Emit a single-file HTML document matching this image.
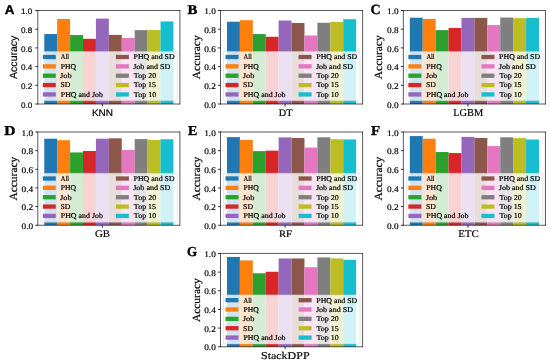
<!DOCTYPE html>
<html><head><meta charset="utf-8"><style>
html,body{margin:0;padding:0;background:#fff;}
svg{display:block;will-change:transform;} text{text-rendering:geometricPrecision;}
</style></head><body>
<svg width="550" height="364" viewBox="0 0 550 364">
<rect width="550" height="364" fill="#fff"/>
<rect x="44.26" y="34.06" width="12.92" height="69.94" fill="#1f77b4"/>
<rect x="57.18" y="18.91" width="12.92" height="85.09" fill="#ff7f0e"/>
<rect x="70.10" y="35.09" width="12.92" height="68.91" fill="#2ca02c"/>
<rect x="83.01" y="38.83" width="12.92" height="65.17" fill="#d62728"/>
<rect x="95.93" y="18.63" width="12.92" height="85.37" fill="#9467bd"/>
<rect x="108.85" y="34.90" width="12.92" height="69.10" fill="#8c564b"/>
<rect x="121.77" y="37.99" width="12.92" height="66.01" fill="#e377c2"/>
<rect x="134.69" y="30.13" width="12.92" height="73.87" fill="#7f7f7f"/>
<rect x="147.60" y="30.04" width="12.92" height="73.96" fill="#bcbd22"/>
<rect x="160.52" y="21.44" width="12.92" height="82.56" fill="#17becf"/>
<rect x="40.80" y="51.55" width="136.50" height="49.20" rx="1.3" fill="#fff" fill-opacity="0.8" stroke="#ccc" stroke-opacity="0.8" stroke-width="0.6"/>
<rect x="42.80" y="54.85" width="13.0" height="4.3" fill="#1f77b4"/>
<text transform="translate(60.84,59.40) scale(0.8770,1)" font-family='"Liberation Serif", serif' font-size="7.4" stroke="#000" stroke-width="0.2">All</text>
<rect x="42.80" y="64.21" width="13.0" height="4.3" fill="#ff7f0e"/>
<text transform="translate(60.78,68.76) scale(1.0371,1)" font-family='"Liberation Serif", serif' font-size="7.4" stroke="#000" stroke-width="0.2">PHQ</text>
<rect x="42.80" y="73.57" width="13.0" height="4.3" fill="#2ca02c"/>
<text transform="translate(60.12,78.12) scale(1.1278,1)" font-family='"Liberation Serif", serif' font-size="7.4" stroke="#000" stroke-width="0.2">Job</text>
<rect x="42.80" y="82.93" width="13.0" height="4.3" fill="#d62728"/>
<text transform="translate(60.38,87.48) scale(1.0498,1)" font-family='"Liberation Serif", serif' font-size="7.4" stroke="#000" stroke-width="0.2">SD</text>
<rect x="42.80" y="92.29" width="13.0" height="4.3" fill="#9467bd"/>
<text transform="translate(60.77,96.84) scale(1.0674,1)" font-family='"Liberation Serif", serif' font-size="7.4" stroke="#000" stroke-width="0.2">PHQ and Job</text>
<rect x="115.90" y="54.85" width="13.0" height="4.3" fill="#8c564b"/>
<text transform="translate(133.57,59.40) scale(1.0619,1)" font-family='"Liberation Serif", serif' font-size="7.4" stroke="#000" stroke-width="0.2">PHQ and SD</text>
<rect x="115.90" y="64.21" width="13.0" height="4.3" fill="#e377c2"/>
<text transform="translate(133.23,68.76) scale(1.0870,1)" font-family='"Liberation Serif", serif' font-size="7.4" stroke="#000" stroke-width="0.2">Job and SD</text>
<rect x="115.90" y="73.57" width="13.0" height="4.3" fill="#7f7f7f"/>
<text transform="translate(133.86,78.12) scale(1.0793,1)" font-family='"Liberation Serif", serif' font-size="7.4" stroke="#000" stroke-width="0.2">Top 20</text>
<rect x="115.90" y="82.93" width="13.0" height="4.3" fill="#bcbd22"/>
<text transform="translate(133.86,87.48) scale(1.0748,1)" font-family='"Liberation Serif", serif' font-size="7.4" stroke="#000" stroke-width="0.2">Top 15</text>
<rect x="115.90" y="92.29" width="13.0" height="4.3" fill="#17becf"/>
<text transform="translate(133.86,96.84) scale(1.0793,1)" font-family='"Liberation Serif", serif' font-size="7.4" stroke="#000" stroke-width="0.2">Top 10</text>
<line x1="37.47" y1="10.50" x2="180.22" y2="10.50" stroke="#000" stroke-width="0.65"/>
<line x1="37.47" y1="104.00" x2="180.22" y2="104.00" stroke="#000" stroke-width="0.65"/>
<line x1="37.80" y1="10.18" x2="37.80" y2="104.33" stroke="#000" stroke-width="0.65"/>
<line x1="179.90" y1="10.18" x2="179.90" y2="104.33" stroke="#000" stroke-width="0.65"/>
<line x1="35.30" y1="104.00" x2="37.80" y2="104.00" stroke="#000" stroke-width="0.8"/>
<text x="32.40" y="107.60" font-family='"Liberation Sans", sans-serif' font-size="8" text-anchor="end" textLength="11.3" lengthAdjust="spacingAndGlyphs" stroke="#000" stroke-width="0.18">0.0</text>
<line x1="35.30" y1="85.30" x2="37.80" y2="85.30" stroke="#000" stroke-width="0.8"/>
<text x="32.40" y="88.90" font-family='"Liberation Sans", sans-serif' font-size="8" text-anchor="end" textLength="11.3" lengthAdjust="spacingAndGlyphs" stroke="#000" stroke-width="0.18">0.2</text>
<line x1="35.30" y1="66.60" x2="37.80" y2="66.60" stroke="#000" stroke-width="0.8"/>
<text x="32.40" y="70.20" font-family='"Liberation Sans", sans-serif' font-size="8" text-anchor="end" textLength="11.3" lengthAdjust="spacingAndGlyphs" stroke="#000" stroke-width="0.18">0.4</text>
<line x1="35.30" y1="47.90" x2="37.80" y2="47.90" stroke="#000" stroke-width="0.8"/>
<text x="32.40" y="51.50" font-family='"Liberation Sans", sans-serif' font-size="8" text-anchor="end" textLength="11.3" lengthAdjust="spacingAndGlyphs" stroke="#000" stroke-width="0.18">0.6</text>
<line x1="35.30" y1="29.20" x2="37.80" y2="29.20" stroke="#000" stroke-width="0.8"/>
<text x="32.40" y="32.80" font-family='"Liberation Sans", sans-serif' font-size="8" text-anchor="end" textLength="11.3" lengthAdjust="spacingAndGlyphs" stroke="#000" stroke-width="0.18">0.8</text>
<line x1="35.30" y1="10.50" x2="37.80" y2="10.50" stroke="#000" stroke-width="0.8"/>
<text x="32.40" y="14.10" font-family='"Liberation Sans", sans-serif' font-size="8" text-anchor="end" textLength="11.3" lengthAdjust="spacingAndGlyphs" stroke="#000" stroke-width="0.18">1.0</text>
<line x1="102.39" y1="104.00" x2="102.39" y2="106.50" stroke="#000" stroke-width="0.8"/>
<text transform="translate(91.88,115.70) scale(1.0440,1)" font-family='"Liberation Sans", sans-serif' font-size="9.59" stroke="#000" stroke-width="0.18">KNN</text>
<text transform="translate(16.50,57.25) rotate(-90) translate(-21.67,0) scale(1.0134,1)" font-family='"Liberation Sans", sans-serif' font-size="10.4" stroke="#000" stroke-width="0.18">Accuracy</text>
<text transform="translate(4.72,13.65) scale(1.0431,1)" font-family='"Liberation Sans", sans-serif' font-size="12.86" font-weight="bold" stroke="#000" stroke-width="0.35">A</text>
<rect x="226.96" y="21.72" width="12.92" height="82.28" fill="#1f77b4"/>
<rect x="239.88" y="20.22" width="12.92" height="83.78" fill="#ff7f0e"/>
<rect x="252.80" y="34.06" width="12.92" height="69.94" fill="#2ca02c"/>
<rect x="265.71" y="36.77" width="12.92" height="67.23" fill="#d62728"/>
<rect x="278.63" y="20.50" width="12.92" height="83.50" fill="#9467bd"/>
<rect x="291.55" y="23.03" width="12.92" height="80.97" fill="#8c564b"/>
<rect x="304.47" y="35.46" width="12.92" height="68.54" fill="#e377c2"/>
<rect x="317.39" y="22.75" width="12.92" height="81.25" fill="#7f7f7f"/>
<rect x="330.30" y="22.00" width="12.92" height="82.00" fill="#bcbd22"/>
<rect x="343.22" y="19.20" width="12.92" height="84.80" fill="#17becf"/>
<rect x="223.50" y="51.55" width="136.50" height="49.20" rx="1.3" fill="#fff" fill-opacity="0.8" stroke="#ccc" stroke-opacity="0.8" stroke-width="0.6"/>
<rect x="225.50" y="54.85" width="13.0" height="4.3" fill="#1f77b4"/>
<text transform="translate(243.54,59.40) scale(0.8770,1)" font-family='"Liberation Serif", serif' font-size="7.4" stroke="#000" stroke-width="0.2">All</text>
<rect x="225.50" y="64.21" width="13.0" height="4.3" fill="#ff7f0e"/>
<text transform="translate(243.48,68.76) scale(1.0371,1)" font-family='"Liberation Serif", serif' font-size="7.4" stroke="#000" stroke-width="0.2">PHQ</text>
<rect x="225.50" y="73.57" width="13.0" height="4.3" fill="#2ca02c"/>
<text transform="translate(242.82,78.12) scale(1.1278,1)" font-family='"Liberation Serif", serif' font-size="7.4" stroke="#000" stroke-width="0.2">Job</text>
<rect x="225.50" y="82.93" width="13.0" height="4.3" fill="#d62728"/>
<text transform="translate(243.08,87.48) scale(1.0498,1)" font-family='"Liberation Serif", serif' font-size="7.4" stroke="#000" stroke-width="0.2">SD</text>
<rect x="225.50" y="92.29" width="13.0" height="4.3" fill="#9467bd"/>
<text transform="translate(243.47,96.84) scale(1.0674,1)" font-family='"Liberation Serif", serif' font-size="7.4" stroke="#000" stroke-width="0.2">PHQ and Job</text>
<rect x="298.60" y="54.85" width="13.0" height="4.3" fill="#8c564b"/>
<text transform="translate(316.27,59.40) scale(1.0619,1)" font-family='"Liberation Serif", serif' font-size="7.4" stroke="#000" stroke-width="0.2">PHQ and SD</text>
<rect x="298.60" y="64.21" width="13.0" height="4.3" fill="#e377c2"/>
<text transform="translate(315.93,68.76) scale(1.0870,1)" font-family='"Liberation Serif", serif' font-size="7.4" stroke="#000" stroke-width="0.2">Job and SD</text>
<rect x="298.60" y="73.57" width="13.0" height="4.3" fill="#7f7f7f"/>
<text transform="translate(316.56,78.12) scale(1.0793,1)" font-family='"Liberation Serif", serif' font-size="7.4" stroke="#000" stroke-width="0.2">Top 20</text>
<rect x="298.60" y="82.93" width="13.0" height="4.3" fill="#bcbd22"/>
<text transform="translate(316.56,87.48) scale(1.0748,1)" font-family='"Liberation Serif", serif' font-size="7.4" stroke="#000" stroke-width="0.2">Top 15</text>
<rect x="298.60" y="92.29" width="13.0" height="4.3" fill="#17becf"/>
<text transform="translate(316.56,96.84) scale(1.0793,1)" font-family='"Liberation Serif", serif' font-size="7.4" stroke="#000" stroke-width="0.2">Top 10</text>
<line x1="220.18" y1="10.50" x2="362.93" y2="10.50" stroke="#000" stroke-width="0.65"/>
<line x1="220.18" y1="104.00" x2="362.93" y2="104.00" stroke="#000" stroke-width="0.65"/>
<line x1="220.50" y1="10.18" x2="220.50" y2="104.33" stroke="#000" stroke-width="0.65"/>
<line x1="362.60" y1="10.18" x2="362.60" y2="104.33" stroke="#000" stroke-width="0.65"/>
<line x1="218.00" y1="104.00" x2="220.50" y2="104.00" stroke="#000" stroke-width="0.8"/>
<text x="215.80" y="107.60" font-family='"Liberation Serif", serif' font-size="8.7" text-anchor="end" textLength="11.6" lengthAdjust="spacingAndGlyphs" stroke="#000" stroke-width="0.18">0.0</text>
<line x1="218.00" y1="85.30" x2="220.50" y2="85.30" stroke="#000" stroke-width="0.8"/>
<text x="215.80" y="88.90" font-family='"Liberation Serif", serif' font-size="8.7" text-anchor="end" textLength="11.6" lengthAdjust="spacingAndGlyphs" stroke="#000" stroke-width="0.18">0.2</text>
<line x1="218.00" y1="66.60" x2="220.50" y2="66.60" stroke="#000" stroke-width="0.8"/>
<text x="215.80" y="70.20" font-family='"Liberation Serif", serif' font-size="8.7" text-anchor="end" textLength="11.6" lengthAdjust="spacingAndGlyphs" stroke="#000" stroke-width="0.18">0.4</text>
<line x1="218.00" y1="47.90" x2="220.50" y2="47.90" stroke="#000" stroke-width="0.8"/>
<text x="215.80" y="51.50" font-family='"Liberation Serif", serif' font-size="8.7" text-anchor="end" textLength="11.6" lengthAdjust="spacingAndGlyphs" stroke="#000" stroke-width="0.18">0.6</text>
<line x1="218.00" y1="29.20" x2="220.50" y2="29.20" stroke="#000" stroke-width="0.8"/>
<text x="215.80" y="32.80" font-family='"Liberation Serif", serif' font-size="8.7" text-anchor="end" textLength="11.6" lengthAdjust="spacingAndGlyphs" stroke="#000" stroke-width="0.18">0.8</text>
<line x1="218.00" y1="10.50" x2="220.50" y2="10.50" stroke="#000" stroke-width="0.8"/>
<text x="215.80" y="14.10" font-family='"Liberation Serif", serif' font-size="8.7" text-anchor="end" textLength="11.6" lengthAdjust="spacingAndGlyphs" stroke="#000" stroke-width="0.18">1.0</text>
<line x1="285.09" y1="104.00" x2="285.09" y2="106.50" stroke="#000" stroke-width="0.8"/>
<text transform="translate(278.70,115.70) scale(1.0247,1)" font-family='"Liberation Serif", serif' font-size="10.08" stroke="#000" stroke-width="0.18">DT</text>
<text transform="translate(199.50,57.25) rotate(-90) translate(-21.96,0) scale(1.0408,1)" font-family='"Liberation Serif", serif' font-size="11" stroke="#000" stroke-width="0.18">Accuracy</text>
<text transform="translate(187.40,13.65) scale(1.0938,1)" font-family='"Liberation Serif", serif' font-size="13.51" font-weight="bold" stroke="#000" stroke-width="0.35">B</text>
<rect x="409.81" y="17.70" width="12.92" height="86.30" fill="#1f77b4"/>
<rect x="422.73" y="18.91" width="12.92" height="85.09" fill="#ff7f0e"/>
<rect x="435.65" y="30.13" width="12.92" height="73.87" fill="#2ca02c"/>
<rect x="448.56" y="27.98" width="12.92" height="76.02" fill="#d62728"/>
<rect x="461.48" y="17.89" width="12.92" height="86.11" fill="#9467bd"/>
<rect x="474.40" y="17.89" width="12.92" height="86.11" fill="#8c564b"/>
<rect x="487.32" y="25.09" width="12.92" height="78.91" fill="#e377c2"/>
<rect x="500.24" y="17.51" width="12.92" height="86.49" fill="#7f7f7f"/>
<rect x="513.15" y="18.17" width="12.92" height="85.83" fill="#bcbd22"/>
<rect x="526.07" y="17.89" width="12.92" height="86.11" fill="#17becf"/>
<rect x="406.35" y="51.55" width="136.50" height="49.20" rx="1.3" fill="#fff" fill-opacity="0.8" stroke="#ccc" stroke-opacity="0.8" stroke-width="0.6"/>
<rect x="408.35" y="54.85" width="13.0" height="4.3" fill="#1f77b4"/>
<text transform="translate(426.39,59.40) scale(0.8770,1)" font-family='"Liberation Serif", serif' font-size="7.4" stroke="#000" stroke-width="0.2">All</text>
<rect x="408.35" y="64.21" width="13.0" height="4.3" fill="#ff7f0e"/>
<text transform="translate(426.33,68.76) scale(1.0371,1)" font-family='"Liberation Serif", serif' font-size="7.4" stroke="#000" stroke-width="0.2">PHQ</text>
<rect x="408.35" y="73.57" width="13.0" height="4.3" fill="#2ca02c"/>
<text transform="translate(425.67,78.12) scale(1.1278,1)" font-family='"Liberation Serif", serif' font-size="7.4" stroke="#000" stroke-width="0.2">Job</text>
<rect x="408.35" y="82.93" width="13.0" height="4.3" fill="#d62728"/>
<text transform="translate(425.93,87.48) scale(1.0498,1)" font-family='"Liberation Serif", serif' font-size="7.4" stroke="#000" stroke-width="0.2">SD</text>
<rect x="408.35" y="92.29" width="13.0" height="4.3" fill="#9467bd"/>
<text transform="translate(426.32,96.84) scale(1.0674,1)" font-family='"Liberation Serif", serif' font-size="7.4" stroke="#000" stroke-width="0.2">PHQ and Job</text>
<rect x="481.45" y="54.85" width="13.0" height="4.3" fill="#8c564b"/>
<text transform="translate(499.12,59.40) scale(1.0619,1)" font-family='"Liberation Serif", serif' font-size="7.4" stroke="#000" stroke-width="0.2">PHQ and SD</text>
<rect x="481.45" y="64.21" width="13.0" height="4.3" fill="#e377c2"/>
<text transform="translate(498.78,68.76) scale(1.0870,1)" font-family='"Liberation Serif", serif' font-size="7.4" stroke="#000" stroke-width="0.2">Job and SD</text>
<rect x="481.45" y="73.57" width="13.0" height="4.3" fill="#7f7f7f"/>
<text transform="translate(499.41,78.12) scale(1.0793,1)" font-family='"Liberation Serif", serif' font-size="7.4" stroke="#000" stroke-width="0.2">Top 20</text>
<rect x="481.45" y="82.93" width="13.0" height="4.3" fill="#bcbd22"/>
<text transform="translate(499.41,87.48) scale(1.0748,1)" font-family='"Liberation Serif", serif' font-size="7.4" stroke="#000" stroke-width="0.2">Top 15</text>
<rect x="481.45" y="92.29" width="13.0" height="4.3" fill="#17becf"/>
<text transform="translate(499.41,96.84) scale(1.0793,1)" font-family='"Liberation Serif", serif' font-size="7.4" stroke="#000" stroke-width="0.2">Top 10</text>
<line x1="403.03" y1="10.50" x2="545.78" y2="10.50" stroke="#000" stroke-width="0.65"/>
<line x1="403.03" y1="104.00" x2="545.78" y2="104.00" stroke="#000" stroke-width="0.65"/>
<line x1="403.35" y1="10.18" x2="403.35" y2="104.33" stroke="#000" stroke-width="0.65"/>
<line x1="545.45" y1="10.18" x2="545.45" y2="104.33" stroke="#000" stroke-width="0.65"/>
<line x1="400.85" y1="104.00" x2="403.35" y2="104.00" stroke="#000" stroke-width="0.8"/>
<text x="398.65" y="107.60" font-family='"Liberation Serif", serif' font-size="8.7" text-anchor="end" textLength="11.6" lengthAdjust="spacingAndGlyphs" stroke="#000" stroke-width="0.18">0.0</text>
<line x1="400.85" y1="85.30" x2="403.35" y2="85.30" stroke="#000" stroke-width="0.8"/>
<text x="398.65" y="88.90" font-family='"Liberation Serif", serif' font-size="8.7" text-anchor="end" textLength="11.6" lengthAdjust="spacingAndGlyphs" stroke="#000" stroke-width="0.18">0.2</text>
<line x1="400.85" y1="66.60" x2="403.35" y2="66.60" stroke="#000" stroke-width="0.8"/>
<text x="398.65" y="70.20" font-family='"Liberation Serif", serif' font-size="8.7" text-anchor="end" textLength="11.6" lengthAdjust="spacingAndGlyphs" stroke="#000" stroke-width="0.18">0.4</text>
<line x1="400.85" y1="47.90" x2="403.35" y2="47.90" stroke="#000" stroke-width="0.8"/>
<text x="398.65" y="51.50" font-family='"Liberation Serif", serif' font-size="8.7" text-anchor="end" textLength="11.6" lengthAdjust="spacingAndGlyphs" stroke="#000" stroke-width="0.18">0.6</text>
<line x1="400.85" y1="29.20" x2="403.35" y2="29.20" stroke="#000" stroke-width="0.8"/>
<text x="398.65" y="32.80" font-family='"Liberation Serif", serif' font-size="8.7" text-anchor="end" textLength="11.6" lengthAdjust="spacingAndGlyphs" stroke="#000" stroke-width="0.18">0.8</text>
<line x1="400.85" y1="10.50" x2="403.35" y2="10.50" stroke="#000" stroke-width="0.8"/>
<text x="398.65" y="14.10" font-family='"Liberation Serif", serif' font-size="8.7" text-anchor="end" textLength="11.6" lengthAdjust="spacingAndGlyphs" stroke="#000" stroke-width="0.18">1.0</text>
<line x1="467.94" y1="104.00" x2="467.94" y2="106.50" stroke="#000" stroke-width="0.8"/>
<text transform="translate(453.20,115.60) scale(0.9985,1)" font-family='"Liberation Serif", serif' font-size="10.4" stroke="#000" stroke-width="0.18">LGBM</text>
<text transform="translate(382.35,57.25) rotate(-90) translate(-21.96,0) scale(1.0408,1)" font-family='"Liberation Serif", serif' font-size="11" stroke="#000" stroke-width="0.18">Accuracy</text>
<text transform="translate(370.56,13.75) scale(1.0069,1)" font-family='"Liberation Serif", serif' font-size="13.97" font-weight="bold" stroke="#000" stroke-width="0.35">C</text>
<rect x="44.26" y="138.70" width="12.92" height="86.55" fill="#1f77b4"/>
<rect x="57.18" y="140.20" width="12.92" height="85.05" fill="#ff7f0e"/>
<rect x="70.10" y="152.42" width="12.92" height="72.83" fill="#2ca02c"/>
<rect x="83.01" y="151.02" width="12.92" height="74.23" fill="#d62728"/>
<rect x="95.93" y="138.70" width="12.92" height="86.55" fill="#9467bd"/>
<rect x="108.85" y="138.33" width="12.92" height="86.92" fill="#8c564b"/>
<rect x="121.77" y="149.99" width="12.92" height="75.26" fill="#e377c2"/>
<rect x="134.69" y="139.08" width="12.92" height="86.17" fill="#7f7f7f"/>
<rect x="147.60" y="140.01" width="12.92" height="85.24" fill="#bcbd22"/>
<rect x="160.52" y="139.26" width="12.92" height="85.99" fill="#17becf"/>
<rect x="40.80" y="173.30" width="136.50" height="48.95" rx="1.3" fill="#fff" fill-opacity="0.8" stroke="#ccc" stroke-opacity="0.8" stroke-width="0.6"/>
<rect x="42.80" y="176.35" width="13.0" height="4.3" fill="#1f77b4"/>
<text transform="translate(60.84,180.90) scale(0.8770,1)" font-family='"Liberation Serif", serif' font-size="7.4" stroke="#000" stroke-width="0.2">All</text>
<rect x="42.80" y="185.71" width="13.0" height="4.3" fill="#ff7f0e"/>
<text transform="translate(60.78,190.26) scale(1.0371,1)" font-family='"Liberation Serif", serif' font-size="7.4" stroke="#000" stroke-width="0.2">PHQ</text>
<rect x="42.80" y="195.07" width="13.0" height="4.3" fill="#2ca02c"/>
<text transform="translate(60.12,199.62) scale(1.1278,1)" font-family='"Liberation Serif", serif' font-size="7.4" stroke="#000" stroke-width="0.2">Job</text>
<rect x="42.80" y="204.43" width="13.0" height="4.3" fill="#d62728"/>
<text transform="translate(60.38,208.98) scale(1.0498,1)" font-family='"Liberation Serif", serif' font-size="7.4" stroke="#000" stroke-width="0.2">SD</text>
<rect x="42.80" y="213.79" width="13.0" height="4.3" fill="#9467bd"/>
<text transform="translate(60.77,218.34) scale(1.0674,1)" font-family='"Liberation Serif", serif' font-size="7.4" stroke="#000" stroke-width="0.2">PHQ and Job</text>
<rect x="115.90" y="176.35" width="13.0" height="4.3" fill="#8c564b"/>
<text transform="translate(133.57,180.90) scale(1.0619,1)" font-family='"Liberation Serif", serif' font-size="7.4" stroke="#000" stroke-width="0.2">PHQ and SD</text>
<rect x="115.90" y="185.71" width="13.0" height="4.3" fill="#e377c2"/>
<text transform="translate(133.23,190.26) scale(1.0870,1)" font-family='"Liberation Serif", serif' font-size="7.4" stroke="#000" stroke-width="0.2">Job and SD</text>
<rect x="115.90" y="195.07" width="13.0" height="4.3" fill="#7f7f7f"/>
<text transform="translate(133.86,199.62) scale(1.0793,1)" font-family='"Liberation Serif", serif' font-size="7.4" stroke="#000" stroke-width="0.2">Top 20</text>
<rect x="115.90" y="204.43" width="13.0" height="4.3" fill="#bcbd22"/>
<text transform="translate(133.86,208.98) scale(1.0748,1)" font-family='"Liberation Serif", serif' font-size="7.4" stroke="#000" stroke-width="0.2">Top 15</text>
<rect x="115.90" y="213.79" width="13.0" height="4.3" fill="#17becf"/>
<text transform="translate(133.86,218.34) scale(1.0793,1)" font-family='"Liberation Serif", serif' font-size="7.4" stroke="#000" stroke-width="0.2">Top 10</text>
<line x1="37.47" y1="132.00" x2="180.22" y2="132.00" stroke="#000" stroke-width="0.65"/>
<line x1="37.47" y1="225.25" x2="180.22" y2="225.25" stroke="#000" stroke-width="0.65"/>
<line x1="37.80" y1="131.68" x2="37.80" y2="225.57" stroke="#000" stroke-width="0.65"/>
<line x1="179.90" y1="131.68" x2="179.90" y2="225.57" stroke="#000" stroke-width="0.65"/>
<line x1="35.30" y1="225.25" x2="37.80" y2="225.25" stroke="#000" stroke-width="0.8"/>
<text x="33.10" y="228.85" font-family='"Liberation Serif", serif' font-size="8.7" text-anchor="end" textLength="11.6" lengthAdjust="spacingAndGlyphs" stroke="#000" stroke-width="0.18">0.0</text>
<line x1="35.30" y1="206.60" x2="37.80" y2="206.60" stroke="#000" stroke-width="0.8"/>
<text x="33.10" y="210.20" font-family='"Liberation Serif", serif' font-size="8.7" text-anchor="end" textLength="11.6" lengthAdjust="spacingAndGlyphs" stroke="#000" stroke-width="0.18">0.2</text>
<line x1="35.30" y1="187.95" x2="37.80" y2="187.95" stroke="#000" stroke-width="0.8"/>
<text x="33.10" y="191.55" font-family='"Liberation Serif", serif' font-size="8.7" text-anchor="end" textLength="11.6" lengthAdjust="spacingAndGlyphs" stroke="#000" stroke-width="0.18">0.4</text>
<line x1="35.30" y1="169.30" x2="37.80" y2="169.30" stroke="#000" stroke-width="0.8"/>
<text x="33.10" y="172.90" font-family='"Liberation Serif", serif' font-size="8.7" text-anchor="end" textLength="11.6" lengthAdjust="spacingAndGlyphs" stroke="#000" stroke-width="0.18">0.6</text>
<line x1="35.30" y1="150.65" x2="37.80" y2="150.65" stroke="#000" stroke-width="0.8"/>
<text x="33.10" y="154.25" font-family='"Liberation Serif", serif' font-size="8.7" text-anchor="end" textLength="11.6" lengthAdjust="spacingAndGlyphs" stroke="#000" stroke-width="0.18">0.8</text>
<line x1="35.30" y1="132.00" x2="37.80" y2="132.00" stroke="#000" stroke-width="0.8"/>
<text x="33.10" y="135.60" font-family='"Liberation Serif", serif' font-size="8.7" text-anchor="end" textLength="11.6" lengthAdjust="spacingAndGlyphs" stroke="#000" stroke-width="0.18">1.0</text>
<line x1="102.39" y1="225.25" x2="102.39" y2="227.75" stroke="#000" stroke-width="0.8"/>
<text transform="translate(95.06,237.00) scale(1.0689,1)" font-family='"Liberation Serif", serif' font-size="10.08" stroke="#000" stroke-width="0.18">GB</text>
<text transform="translate(16.80,178.62) rotate(-90) translate(-21.96,0) scale(1.0408,1)" font-family='"Liberation Serif", serif' font-size="11" stroke="#000" stroke-width="0.18">Accuracy</text>
<text transform="translate(4.18,134.95) scale(1.1387,1)" font-family='"Liberation Serif", serif' font-size="13.66" font-weight="bold" stroke="#000" stroke-width="0.35">D</text>
<rect x="226.96" y="137.12" width="12.92" height="88.13" fill="#1f77b4"/>
<rect x="239.88" y="139.92" width="12.92" height="85.33" fill="#ff7f0e"/>
<rect x="252.80" y="151.11" width="12.92" height="74.14" fill="#2ca02c"/>
<rect x="265.71" y="150.65" width="12.92" height="74.60" fill="#d62728"/>
<rect x="278.63" y="137.40" width="12.92" height="87.85" fill="#9467bd"/>
<rect x="291.55" y="137.96" width="12.92" height="87.29" fill="#8c564b"/>
<rect x="304.47" y="147.57" width="12.92" height="77.68" fill="#e377c2"/>
<rect x="317.39" y="137.30" width="12.92" height="87.95" fill="#7f7f7f"/>
<rect x="330.30" y="139.26" width="12.92" height="85.99" fill="#bcbd22"/>
<rect x="343.22" y="139.45" width="12.92" height="85.80" fill="#17becf"/>
<rect x="223.50" y="173.30" width="136.50" height="48.95" rx="1.3" fill="#fff" fill-opacity="0.8" stroke="#ccc" stroke-opacity="0.8" stroke-width="0.6"/>
<rect x="225.50" y="176.35" width="13.0" height="4.3" fill="#1f77b4"/>
<text transform="translate(243.54,180.90) scale(0.8770,1)" font-family='"Liberation Serif", serif' font-size="7.4" stroke="#000" stroke-width="0.2">All</text>
<rect x="225.50" y="185.71" width="13.0" height="4.3" fill="#ff7f0e"/>
<text transform="translate(243.48,190.26) scale(1.0371,1)" font-family='"Liberation Serif", serif' font-size="7.4" stroke="#000" stroke-width="0.2">PHQ</text>
<rect x="225.50" y="195.07" width="13.0" height="4.3" fill="#2ca02c"/>
<text transform="translate(242.82,199.62) scale(1.1278,1)" font-family='"Liberation Serif", serif' font-size="7.4" stroke="#000" stroke-width="0.2">Job</text>
<rect x="225.50" y="204.43" width="13.0" height="4.3" fill="#d62728"/>
<text transform="translate(243.08,208.98) scale(1.0498,1)" font-family='"Liberation Serif", serif' font-size="7.4" stroke="#000" stroke-width="0.2">SD</text>
<rect x="225.50" y="213.79" width="13.0" height="4.3" fill="#9467bd"/>
<text transform="translate(243.47,218.34) scale(1.0674,1)" font-family='"Liberation Serif", serif' font-size="7.4" stroke="#000" stroke-width="0.2">PHQ and Job</text>
<rect x="298.60" y="176.35" width="13.0" height="4.3" fill="#8c564b"/>
<text transform="translate(316.27,180.90) scale(1.0619,1)" font-family='"Liberation Serif", serif' font-size="7.4" stroke="#000" stroke-width="0.2">PHQ and SD</text>
<rect x="298.60" y="185.71" width="13.0" height="4.3" fill="#e377c2"/>
<text transform="translate(315.93,190.26) scale(1.0870,1)" font-family='"Liberation Serif", serif' font-size="7.4" stroke="#000" stroke-width="0.2">Job and SD</text>
<rect x="298.60" y="195.07" width="13.0" height="4.3" fill="#7f7f7f"/>
<text transform="translate(316.56,199.62) scale(1.0793,1)" font-family='"Liberation Serif", serif' font-size="7.4" stroke="#000" stroke-width="0.2">Top 20</text>
<rect x="298.60" y="204.43" width="13.0" height="4.3" fill="#bcbd22"/>
<text transform="translate(316.56,208.98) scale(1.0748,1)" font-family='"Liberation Serif", serif' font-size="7.4" stroke="#000" stroke-width="0.2">Top 15</text>
<rect x="298.60" y="213.79" width="13.0" height="4.3" fill="#17becf"/>
<text transform="translate(316.56,218.34) scale(1.0793,1)" font-family='"Liberation Serif", serif' font-size="7.4" stroke="#000" stroke-width="0.2">Top 10</text>
<line x1="220.18" y1="132.00" x2="362.93" y2="132.00" stroke="#000" stroke-width="0.65"/>
<line x1="220.18" y1="225.25" x2="362.93" y2="225.25" stroke="#000" stroke-width="0.65"/>
<line x1="220.50" y1="131.68" x2="220.50" y2="225.57" stroke="#000" stroke-width="0.65"/>
<line x1="362.60" y1="131.68" x2="362.60" y2="225.57" stroke="#000" stroke-width="0.65"/>
<line x1="218.00" y1="225.25" x2="220.50" y2="225.25" stroke="#000" stroke-width="0.8"/>
<text x="215.80" y="228.85" font-family='"Liberation Serif", serif' font-size="8.7" text-anchor="end" textLength="11.6" lengthAdjust="spacingAndGlyphs" stroke="#000" stroke-width="0.18">0.0</text>
<line x1="218.00" y1="206.60" x2="220.50" y2="206.60" stroke="#000" stroke-width="0.8"/>
<text x="215.80" y="210.20" font-family='"Liberation Serif", serif' font-size="8.7" text-anchor="end" textLength="11.6" lengthAdjust="spacingAndGlyphs" stroke="#000" stroke-width="0.18">0.2</text>
<line x1="218.00" y1="187.95" x2="220.50" y2="187.95" stroke="#000" stroke-width="0.8"/>
<text x="215.80" y="191.55" font-family='"Liberation Serif", serif' font-size="8.7" text-anchor="end" textLength="11.6" lengthAdjust="spacingAndGlyphs" stroke="#000" stroke-width="0.18">0.4</text>
<line x1="218.00" y1="169.30" x2="220.50" y2="169.30" stroke="#000" stroke-width="0.8"/>
<text x="215.80" y="172.90" font-family='"Liberation Serif", serif' font-size="8.7" text-anchor="end" textLength="11.6" lengthAdjust="spacingAndGlyphs" stroke="#000" stroke-width="0.18">0.6</text>
<line x1="218.00" y1="150.65" x2="220.50" y2="150.65" stroke="#000" stroke-width="0.8"/>
<text x="215.80" y="154.25" font-family='"Liberation Serif", serif' font-size="8.7" text-anchor="end" textLength="11.6" lengthAdjust="spacingAndGlyphs" stroke="#000" stroke-width="0.18">0.8</text>
<line x1="218.00" y1="132.00" x2="220.50" y2="132.00" stroke="#000" stroke-width="0.8"/>
<text x="215.80" y="135.60" font-family='"Liberation Serif", serif' font-size="8.7" text-anchor="end" textLength="11.6" lengthAdjust="spacingAndGlyphs" stroke="#000" stroke-width="0.18">1.0</text>
<line x1="285.09" y1="225.25" x2="285.09" y2="227.75" stroke="#000" stroke-width="0.8"/>
<text transform="translate(278.99,237.00) scale(1.0870,1)" font-family='"Liberation Serif", serif' font-size="9.77" stroke="#000" stroke-width="0.18">RF</text>
<text transform="translate(199.50,178.62) rotate(-90) translate(-21.96,0) scale(1.0408,1)" font-family='"Liberation Serif", serif' font-size="11" stroke="#000" stroke-width="0.18">Accuracy</text>
<text transform="translate(188.01,134.95) scale(1.0272,1)" font-family='"Liberation Serif", serif' font-size="13.66" font-weight="bold" stroke="#000" stroke-width="0.35">E</text>
<rect x="409.81" y="136.09" width="12.92" height="89.16" fill="#1f77b4"/>
<rect x="422.73" y="138.70" width="12.92" height="86.55" fill="#ff7f0e"/>
<rect x="435.65" y="152.05" width="12.92" height="73.20" fill="#2ca02c"/>
<rect x="448.56" y="153.07" width="12.92" height="72.18" fill="#d62728"/>
<rect x="461.48" y="136.93" width="12.92" height="88.32" fill="#9467bd"/>
<rect x="474.40" y="137.96" width="12.92" height="87.29" fill="#8c564b"/>
<rect x="487.32" y="146.07" width="12.92" height="79.18" fill="#e377c2"/>
<rect x="500.24" y="137.30" width="12.92" height="87.95" fill="#7f7f7f"/>
<rect x="513.15" y="138.14" width="12.92" height="87.11" fill="#bcbd22"/>
<rect x="526.07" y="139.54" width="12.92" height="85.71" fill="#17becf"/>
<rect x="406.35" y="173.30" width="136.50" height="48.95" rx="1.3" fill="#fff" fill-opacity="0.8" stroke="#ccc" stroke-opacity="0.8" stroke-width="0.6"/>
<rect x="408.35" y="176.35" width="13.0" height="4.3" fill="#1f77b4"/>
<text transform="translate(426.39,180.90) scale(0.8770,1)" font-family='"Liberation Serif", serif' font-size="7.4" stroke="#000" stroke-width="0.2">All</text>
<rect x="408.35" y="185.71" width="13.0" height="4.3" fill="#ff7f0e"/>
<text transform="translate(426.33,190.26) scale(1.0371,1)" font-family='"Liberation Serif", serif' font-size="7.4" stroke="#000" stroke-width="0.2">PHQ</text>
<rect x="408.35" y="195.07" width="13.0" height="4.3" fill="#2ca02c"/>
<text transform="translate(425.67,199.62) scale(1.1278,1)" font-family='"Liberation Serif", serif' font-size="7.4" stroke="#000" stroke-width="0.2">Job</text>
<rect x="408.35" y="204.43" width="13.0" height="4.3" fill="#d62728"/>
<text transform="translate(425.93,208.98) scale(1.0498,1)" font-family='"Liberation Serif", serif' font-size="7.4" stroke="#000" stroke-width="0.2">SD</text>
<rect x="408.35" y="213.79" width="13.0" height="4.3" fill="#9467bd"/>
<text transform="translate(426.32,218.34) scale(1.0674,1)" font-family='"Liberation Serif", serif' font-size="7.4" stroke="#000" stroke-width="0.2">PHQ and Job</text>
<rect x="481.45" y="176.35" width="13.0" height="4.3" fill="#8c564b"/>
<text transform="translate(499.12,180.90) scale(1.0619,1)" font-family='"Liberation Serif", serif' font-size="7.4" stroke="#000" stroke-width="0.2">PHQ and SD</text>
<rect x="481.45" y="185.71" width="13.0" height="4.3" fill="#e377c2"/>
<text transform="translate(498.78,190.26) scale(1.0870,1)" font-family='"Liberation Serif", serif' font-size="7.4" stroke="#000" stroke-width="0.2">Job and SD</text>
<rect x="481.45" y="195.07" width="13.0" height="4.3" fill="#7f7f7f"/>
<text transform="translate(499.41,199.62) scale(1.0793,1)" font-family='"Liberation Serif", serif' font-size="7.4" stroke="#000" stroke-width="0.2">Top 20</text>
<rect x="481.45" y="204.43" width="13.0" height="4.3" fill="#bcbd22"/>
<text transform="translate(499.41,208.98) scale(1.0748,1)" font-family='"Liberation Serif", serif' font-size="7.4" stroke="#000" stroke-width="0.2">Top 15</text>
<rect x="481.45" y="213.79" width="13.0" height="4.3" fill="#17becf"/>
<text transform="translate(499.41,218.34) scale(1.0793,1)" font-family='"Liberation Serif", serif' font-size="7.4" stroke="#000" stroke-width="0.2">Top 10</text>
<line x1="403.03" y1="132.00" x2="545.78" y2="132.00" stroke="#000" stroke-width="0.65"/>
<line x1="403.03" y1="225.25" x2="545.78" y2="225.25" stroke="#000" stroke-width="0.65"/>
<line x1="403.35" y1="131.68" x2="403.35" y2="225.57" stroke="#000" stroke-width="0.65"/>
<line x1="545.45" y1="131.68" x2="545.45" y2="225.57" stroke="#000" stroke-width="0.65"/>
<line x1="400.85" y1="225.25" x2="403.35" y2="225.25" stroke="#000" stroke-width="0.8"/>
<text x="398.65" y="228.85" font-family='"Liberation Serif", serif' font-size="8.7" text-anchor="end" textLength="11.6" lengthAdjust="spacingAndGlyphs" stroke="#000" stroke-width="0.18">0.0</text>
<line x1="400.85" y1="206.60" x2="403.35" y2="206.60" stroke="#000" stroke-width="0.8"/>
<text x="398.65" y="210.20" font-family='"Liberation Serif", serif' font-size="8.7" text-anchor="end" textLength="11.6" lengthAdjust="spacingAndGlyphs" stroke="#000" stroke-width="0.18">0.2</text>
<line x1="400.85" y1="187.95" x2="403.35" y2="187.95" stroke="#000" stroke-width="0.8"/>
<text x="398.65" y="191.55" font-family='"Liberation Serif", serif' font-size="8.7" text-anchor="end" textLength="11.6" lengthAdjust="spacingAndGlyphs" stroke="#000" stroke-width="0.18">0.4</text>
<line x1="400.85" y1="169.30" x2="403.35" y2="169.30" stroke="#000" stroke-width="0.8"/>
<text x="398.65" y="172.90" font-family='"Liberation Serif", serif' font-size="8.7" text-anchor="end" textLength="11.6" lengthAdjust="spacingAndGlyphs" stroke="#000" stroke-width="0.18">0.6</text>
<line x1="400.85" y1="150.65" x2="403.35" y2="150.65" stroke="#000" stroke-width="0.8"/>
<text x="398.65" y="154.25" font-family='"Liberation Serif", serif' font-size="8.7" text-anchor="end" textLength="11.6" lengthAdjust="spacingAndGlyphs" stroke="#000" stroke-width="0.18">0.8</text>
<line x1="400.85" y1="132.00" x2="403.35" y2="132.00" stroke="#000" stroke-width="0.8"/>
<text x="398.65" y="135.60" font-family='"Liberation Serif", serif' font-size="8.7" text-anchor="end" textLength="11.6" lengthAdjust="spacingAndGlyphs" stroke="#000" stroke-width="0.18">1.0</text>
<line x1="467.94" y1="225.25" x2="467.94" y2="227.75" stroke="#000" stroke-width="0.8"/>
<text transform="translate(458.19,237.30) scale(1.0671,1)" font-family='"Liberation Serif", serif' font-size="10.23" stroke="#000" stroke-width="0.18">ETC</text>
<text transform="translate(382.35,178.62) rotate(-90) translate(-21.96,0) scale(1.0408,1)" font-family='"Liberation Serif", serif' font-size="11" stroke="#000" stroke-width="0.18">Accuracy</text>
<text transform="translate(370.99,134.95) scale(1.0996,1)" font-family='"Liberation Serif", serif' font-size="13.66" font-weight="bold" stroke="#000" stroke-width="0.35">F</text>
<rect x="226.96" y="256.96" width="12.92" height="89.79" fill="#1f77b4"/>
<rect x="239.88" y="260.40" width="12.92" height="86.35" fill="#ff7f0e"/>
<rect x="252.80" y="273.27" width="12.92" height="73.48" fill="#2ca02c"/>
<rect x="265.71" y="271.77" width="12.92" height="74.98" fill="#d62728"/>
<rect x="278.63" y="258.45" width="12.92" height="88.30" fill="#9467bd"/>
<rect x="291.55" y="258.45" width="12.92" height="88.30" fill="#8c564b"/>
<rect x="304.47" y="267.21" width="12.92" height="79.54" fill="#e377c2"/>
<rect x="317.39" y="257.42" width="12.92" height="89.33" fill="#7f7f7f"/>
<rect x="330.30" y="258.45" width="12.92" height="88.30" fill="#bcbd22"/>
<rect x="343.22" y="259.75" width="12.92" height="87.00" fill="#17becf"/>
<rect x="223.50" y="294.90" width="136.50" height="49.00" rx="1.3" fill="#fff" fill-opacity="0.8" stroke="#ccc" stroke-opacity="0.8" stroke-width="0.6"/>
<rect x="225.50" y="298.00" width="13.0" height="4.3" fill="#1f77b4"/>
<text transform="translate(243.54,302.55) scale(0.8770,1)" font-family='"Liberation Serif", serif' font-size="7.4" stroke="#000" stroke-width="0.2">All</text>
<rect x="225.50" y="307.36" width="13.0" height="4.3" fill="#ff7f0e"/>
<text transform="translate(243.48,311.91) scale(1.0371,1)" font-family='"Liberation Serif", serif' font-size="7.4" stroke="#000" stroke-width="0.2">PHQ</text>
<rect x="225.50" y="316.72" width="13.0" height="4.3" fill="#2ca02c"/>
<text transform="translate(242.82,321.27) scale(1.1278,1)" font-family='"Liberation Serif", serif' font-size="7.4" stroke="#000" stroke-width="0.2">Job</text>
<rect x="225.50" y="326.08" width="13.0" height="4.3" fill="#d62728"/>
<text transform="translate(243.08,330.63) scale(1.0498,1)" font-family='"Liberation Serif", serif' font-size="7.4" stroke="#000" stroke-width="0.2">SD</text>
<rect x="225.50" y="335.44" width="13.0" height="4.3" fill="#9467bd"/>
<text transform="translate(243.47,339.99) scale(1.0674,1)" font-family='"Liberation Serif", serif' font-size="7.4" stroke="#000" stroke-width="0.2">PHQ and Job</text>
<rect x="298.60" y="298.00" width="13.0" height="4.3" fill="#8c564b"/>
<text transform="translate(316.27,302.55) scale(1.0619,1)" font-family='"Liberation Serif", serif' font-size="7.4" stroke="#000" stroke-width="0.2">PHQ and SD</text>
<rect x="298.60" y="307.36" width="13.0" height="4.3" fill="#e377c2"/>
<text transform="translate(315.93,311.91) scale(1.0870,1)" font-family='"Liberation Serif", serif' font-size="7.4" stroke="#000" stroke-width="0.2">Job and SD</text>
<rect x="298.60" y="316.72" width="13.0" height="4.3" fill="#7f7f7f"/>
<text transform="translate(316.56,321.27) scale(1.0793,1)" font-family='"Liberation Serif", serif' font-size="7.4" stroke="#000" stroke-width="0.2">Top 20</text>
<rect x="298.60" y="326.08" width="13.0" height="4.3" fill="#bcbd22"/>
<text transform="translate(316.56,330.63) scale(1.0748,1)" font-family='"Liberation Serif", serif' font-size="7.4" stroke="#000" stroke-width="0.2">Top 15</text>
<rect x="298.60" y="335.44" width="13.0" height="4.3" fill="#17becf"/>
<text transform="translate(316.56,339.99) scale(1.0793,1)" font-family='"Liberation Serif", serif' font-size="7.4" stroke="#000" stroke-width="0.2">Top 10</text>
<line x1="220.18" y1="253.45" x2="362.93" y2="253.45" stroke="#000" stroke-width="0.65"/>
<line x1="220.18" y1="346.75" x2="362.93" y2="346.75" stroke="#000" stroke-width="0.65"/>
<line x1="220.50" y1="253.12" x2="220.50" y2="347.07" stroke="#000" stroke-width="0.65"/>
<line x1="362.60" y1="253.12" x2="362.60" y2="347.07" stroke="#000" stroke-width="0.65"/>
<line x1="218.00" y1="346.75" x2="220.50" y2="346.75" stroke="#000" stroke-width="0.8"/>
<text x="215.80" y="350.35" font-family='"Liberation Serif", serif' font-size="8.7" text-anchor="end" textLength="11.6" lengthAdjust="spacingAndGlyphs" stroke="#000" stroke-width="0.18">0.0</text>
<line x1="218.00" y1="328.09" x2="220.50" y2="328.09" stroke="#000" stroke-width="0.8"/>
<text x="215.80" y="331.69" font-family='"Liberation Serif", serif' font-size="8.7" text-anchor="end" textLength="11.6" lengthAdjust="spacingAndGlyphs" stroke="#000" stroke-width="0.18">0.2</text>
<line x1="218.00" y1="309.43" x2="220.50" y2="309.43" stroke="#000" stroke-width="0.8"/>
<text x="215.80" y="313.03" font-family='"Liberation Serif", serif' font-size="8.7" text-anchor="end" textLength="11.6" lengthAdjust="spacingAndGlyphs" stroke="#000" stroke-width="0.18">0.4</text>
<line x1="218.00" y1="290.77" x2="220.50" y2="290.77" stroke="#000" stroke-width="0.8"/>
<text x="215.80" y="294.37" font-family='"Liberation Serif", serif' font-size="8.7" text-anchor="end" textLength="11.6" lengthAdjust="spacingAndGlyphs" stroke="#000" stroke-width="0.18">0.6</text>
<line x1="218.00" y1="272.11" x2="220.50" y2="272.11" stroke="#000" stroke-width="0.8"/>
<text x="215.80" y="275.71" font-family='"Liberation Serif", serif' font-size="8.7" text-anchor="end" textLength="11.6" lengthAdjust="spacingAndGlyphs" stroke="#000" stroke-width="0.18">0.8</text>
<line x1="218.00" y1="253.45" x2="220.50" y2="253.45" stroke="#000" stroke-width="0.8"/>
<text x="215.80" y="257.05" font-family='"Liberation Serif", serif' font-size="8.7" text-anchor="end" textLength="11.6" lengthAdjust="spacingAndGlyphs" stroke="#000" stroke-width="0.18">1.0</text>
<line x1="285.09" y1="346.75" x2="285.09" y2="349.25" stroke="#000" stroke-width="0.8"/>
<text transform="translate(261.00,358.80) scale(1.1516,1)" font-family='"Liberation Serif", serif' font-size="10.4" stroke="#000" stroke-width="0.18">StackDPP</text>
<text transform="translate(199.50,300.10) rotate(-90) translate(-21.96,0) scale(1.0408,1)" font-family='"Liberation Serif", serif' font-size="11" stroke="#000" stroke-width="0.18">Accuracy</text>
<text transform="translate(187.12,256.35) scale(0.9494,1)" font-family='"Liberation Serif", serif' font-size="13.66" font-weight="bold" stroke="#000" stroke-width="0.35">G</text>
</svg>
</body></html>
